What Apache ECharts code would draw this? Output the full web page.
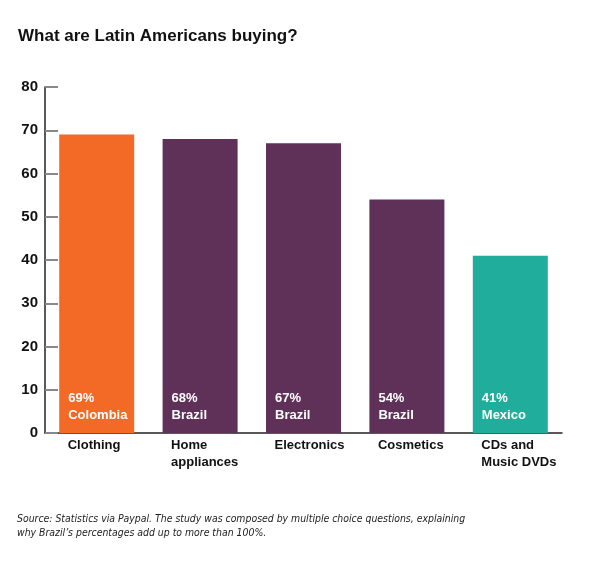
<!DOCTYPE html>
<html>
<head>
<meta charset="utf-8" />
<title>What are Latin Americans buying?</title>
<script src="https://cdn.jsdelivr.net/npm/echarts@6/dist/echarts.min.js"></script>
<style>
	html, body { margin: 0; padding: 0; background: #fff; }
	#main { width: 596px; height: 567px; }
</style>
</head>
<body>
<div id="main"></div>
<script>
	var categories = ['Clothing', 'Home\nappliances', 'Electronics', 'Cosmetics', 'CDs and\nMusic DVDs'];
	var values = [69, 68, 67, 54, 41];
	var countries = ['Colombia', 'Brazil', 'Brazil', 'Brazil', 'Mexico'];
	var colors = ['#f26a25', '#5f3159', '#5f3159', '#5f3159', '#20ad9b'];
	var yTicks = [0, 10, 20, 30, 40, 50, 60, 70, 80];

	var chart = echarts.init(document.getElementById('main'), null, { renderer: 'canvas' });

	chart.setOption({
		animation: false,
		backgroundColor: '#fff',
		title: [{
			text: 'What are Latin Americans buying?',
			left: 13, top: 23,
			textStyle: { fontFamily: 'Liberation Sans', fontWeight: 'bold', fontSize: 17, color: '#111' }
		}, {
			text: 'Source: Statistics via Paypal. The study was composed by multiple choice questions, explaining\nwhy Brazil\u2019s percentages add up to more than 100%.',
			left: 12, top: 507,
			textStyle: { fontFamily: 'DejaVu Sans Condensed, sans-serif', fontStyle: 'italic', fontWeight: 'normal', fontSize: 10.4, lineHeight: 14, color: '#222' }
		}],
		grid: { left: 45, right: 34, top: 87, bottom: 134, containLabel: false },
		xAxis: {
			type: 'category',
			data: categories,
			boundaryGap: true,
			axisLine: { lineStyle: { color: '#222', width: 1.5 } },
			axisTick: { inside: true, length: 9, lineStyle: { color: '#666', width: 1.5 } },
			axisLabel: {
				interval: 0,
				margin: 4,
				align: 'center',
				verticalAlign: 'top',
				formatter: function (v) {
					return v.split('\n').map(function (s) { return '{a|' + s + '}'; }).join('\n');
				},
				rich: {
					a: { width: 58, align: 'left', fontFamily: 'Liberation Sans', fontWeight: 'bold', fontSize: 13, lineHeight: 17, color: '#111' }
				}
			}
		},
		yAxis: {
			type: 'value',
			min: 0, max: 80, interval: 10,
			axisLine: { show: true, lineStyle: { color: '#222', width: 1.5 } },
			axisTick: { show: true, inside: true, length: 13, lineStyle: { color: '#888', width: 2 } },
			splitLine: { show: false },
			axisLabel: {
				margin: 7,
				fontFamily: 'Liberation Sans', fontWeight: 'bold', fontSize: 15, color: '#111',
				formatter: function (v) { return yTicks.indexOf(v) >= 0 ? String(v) : ''; }
			}
		},
		series: [{
			type: 'bar',
			barWidth: 75,
			data: values.map(function (v, i) {
				return { value: v, itemStyle: { color: colors[i] } };
			}),
			label: {
				show: true,
				position: 'insideBottomLeft',
				distance: 9,
				formatter: function (p) { return p.value + '%\n' + countries[p.dataIndex]; },
				fontFamily: 'Liberation Sans', fontWeight: 'bold', fontSize: 13, lineHeight: 17, color: '#fff'
			}
		}]
	});
</script>
</body>
</html>
